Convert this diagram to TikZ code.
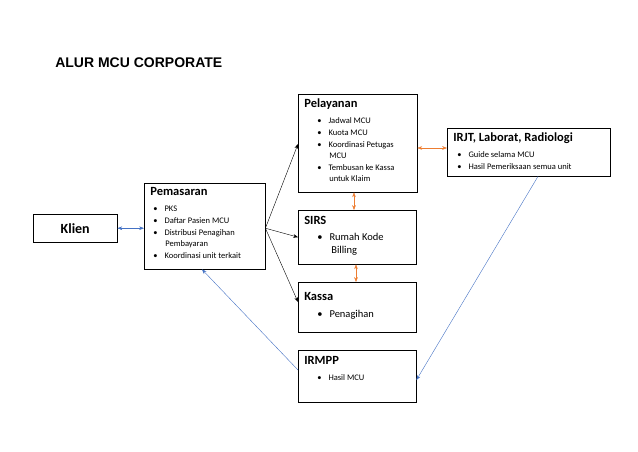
\documentclass[tikz,border=0pt]{standalone}
\usepackage{fontspec}
\setmainfont{Carlito}
\newfontfamily\titlefont{Liberation Sans}
\usetikzlibrary{positioning, arrows.meta}
\begin{document}
\begin{tikzpicture}[
    x = 1pt, y = -1pt,
    > = Stealth,
    semithick
]

% Setup the styles
\tikzset{
    box/.style={draw=black, thin, inner sep=0pt, anchor=north west},
    body/.style={anchor=north west, align=left, inner sep=0pt, font=\fontsize{8.5}{11}\selectfont},
    head/.style={anchor=north west, inner sep=0pt, font=\fontsize{12.5}{14}\selectfont\bfseries},
    blu/.style={draw={rgb,255:red,68;green,114;blue,196}, thin},
    org/.style={draw={rgb,255:red,237;green,125;blue,49}, thin},
    blk/.style={draw=black, thin}
}
\newcommand{\bul}{\textbullet\hspace{7pt}}

\useasboundingbox (0,0) rectangle (638,451);

% Title
\node[anchor=west, inner sep=0pt, font=\titlefont\fontsize{14}{16}\selectfont\bfseries] (title) at (55,63) {ALUR MCU CORPORATE};

% Draw the boxes
\node[box, minimum width=84pt, minimum height=28pt] (klien) at (33,214) {};
\node[font=\fontsize{14}{16}\selectfont\bfseries] at (klien.center) {Klien};

\node[box, minimum width=121pt, minimum height=86pt] (pem) at (144,183) {};
\node[head] at (150,187) {Pemasaran};
\node[body] at (153,206) {\bul PKS\\[1pt]\bul Daftar Pasien MCU\\[1pt]\bul Distribusi Penagihan\\\hspace{12pt}Pembayaran\\[1pt]\bul Koordinasi unit terkait};

\node[box, minimum width=119pt, minimum height=98pt] (pel) at (298,94) {};
\node[head] at (304,98) {Pelayanan};
\node[body] at (317,117) {\bul Jadwal MCU\\[1pt]\bul Kuota MCU\\[1pt]\bul Koordinasi Petugas\\\hspace{12pt}MCU\\[1pt]\bul Tembusan ke Kassa\\\hspace{12pt}untuk Klaim};

\node[box, minimum width=118pt, minimum height=54pt] (sirs) at (298,210) {};
\node[head] at (304,216) {SIRS};
\node[body, font=\fontsize{10.5}{13}\selectfont] at (317,233) {\bul Rumah Kode\\\hspace{14pt}Billing};

\node[box, minimum width=118pt, minimum height=50pt] (kassa) at (298,282) {};
\node[head] at (304,292) {Kassa};
\node[body, font=\fontsize{10.5}{13}\selectfont] at (317,310) {\bul Penagihan};

\node[box, minimum width=118pt, minimum height=52pt] (irmpp) at (298,350) {};
\node[head] at (304,356) {IRMPP};
\node[body] at (317,374) {\bul Hasil MCU};

\node[box, minimum width=163pt, minimum height=48pt] (irjt) at (447,128) {};
\node[head] at (453,132) {IRJT, Laborat, Radiologi};
\node[body] at (457,151) {\bul Guide selama MCU\\[1pt]\bul Hasil Pemeriksaan semua unit};

% Draw the connectors
\draw[blu, <->] (klien.east) -- (pem.west |- klien.east);
\draw[blk, ->] ([yshift=-2pt]pem.east) -- ([yshift=-50pt]pel.north west);
\draw[blk, ->] ([yshift=-2pt]pem.east) -- (sirs.west);
\draw[blk, ->] ([yshift=-2pt]pem.east) -- ([yshift=-20pt]kassa.north west);
\draw[org, <->] ([yshift=-54pt]pel.north east) -- (irjt.west |- {(0,148)});
\draw[org, <->] ([xshift=56pt]pel.south west) -- ([xshift=56pt]sirs.north west);
\draw[org, <->] ([xshift=58pt]sirs.south west) -- ([xshift=58pt]kassa.north west);
\draw[blu, ->] ([xshift=91pt]irjt.south west) -- ([yshift=-30pt]irmpp.north east);
\draw[blu, ->] ([yshift=-20pt]irmpp.north west) -- ([xshift=58pt]pem.south west);

\end{tikzpicture}
\end{document}
